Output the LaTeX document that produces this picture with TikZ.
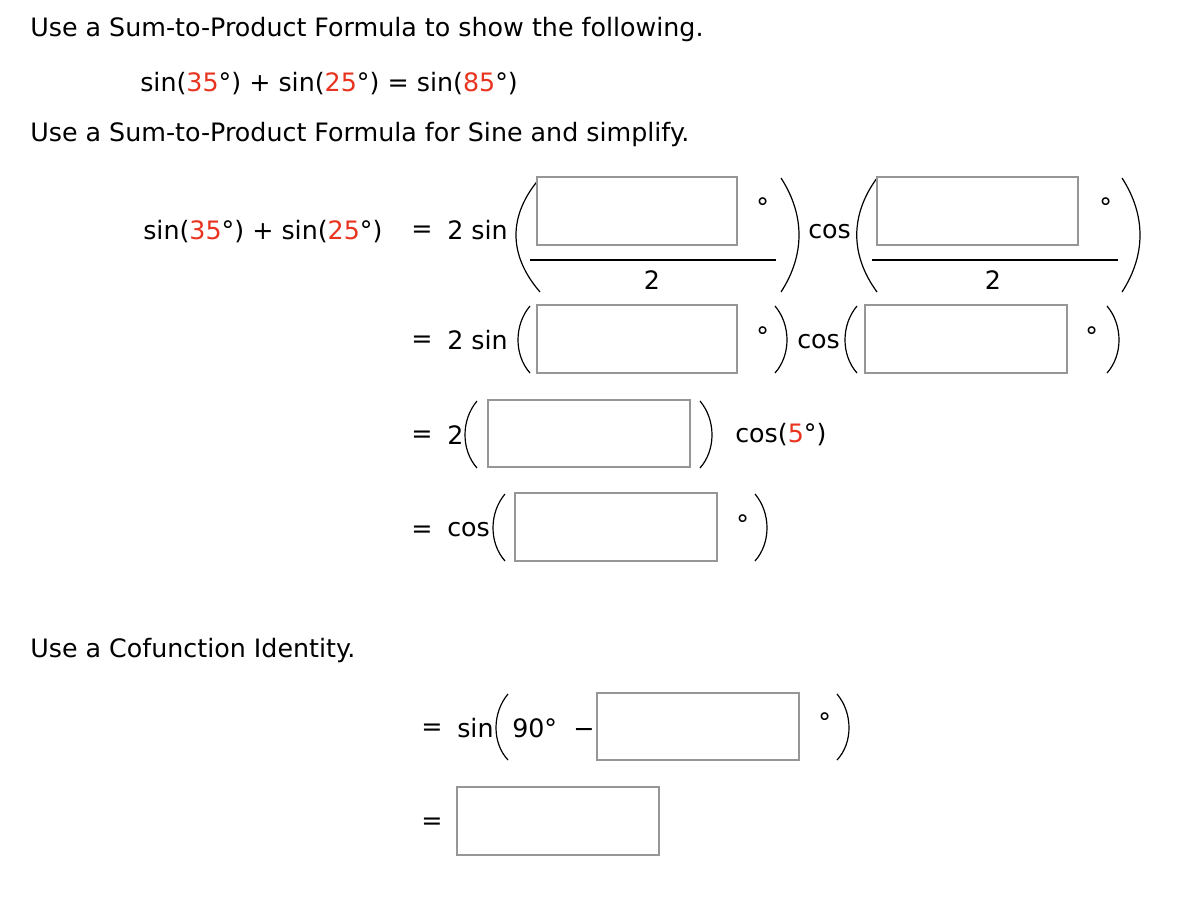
\documentclass[tikz,border=0pt]{standalone}
\usepackage{fontspec}
\setmainfont{DejaVu Sans}
\begin{document}
\begin{tikzpicture}[x=0.75pt,y=-0.75pt]
\definecolor{rd}{RGB}{232,52,30}
\definecolor{bx}{RGB}{150,150,150}
\tikzset{
 txt/.style={inner sep=0pt,anchor=west,font=\fontsize{19}{23}\selectfont},
 eq/.style={txt,anchor=center},
 ansbox/.style={draw=bx,line width=1.5pt,fill=white},
 par/.style={line width=0.9pt},
 fracl/.style={line width=0.9pt}
}
\useasboundingbox (0,0) rectangle (1178,900);
\newcommand{\R}[1]{\textcolor{rd}{#1}}
\node[txt] (t1) at (30,30) {Use a Sum-to-Product Formula to show the following.};
\node[txt] (t2) at (140,84) {sin(\R{35}°) + sin(\R{25}°) = sin(\R{85}°)};
\node[txt] (t3) at (30,135) {Use a Sum-to-Product Formula for Sine and simplify.};
% row 1
\node[txt] (r1a) at (143,232) {sin(\R{35}°) + sin(\R{25}°)};
\node[eq] (r1e) at (422,232) {=};
\node[txt] (r1s) at (447,230) {2 sin};
\draw[par] (540,178) .. controls (508,215) and (508,255) .. (540,292);
\draw[ansbox] (537,177) rectangle (737,245);
\node[txt] (d1) at (756,207) {°};
\draw[fracl] (530,260) -- (776,260);
\node[eq] (n1) at (652,280) {2};
\draw[par] (781,178) .. controls (805,215) and (805,255) .. (781,292);
\node[txt] (r1c) at (808,232) {cos};
\draw[par] (877,178) .. controls (850,215) and (850,255) .. (877,292);
\draw[ansbox] (877,177) rectangle (1078,245);
\node[txt] (d2) at (1099,207) {°};
\draw[fracl] (872,260) -- (1118,260);
\node[eq] (n2) at (993,280) {2};
\draw[par] (1122,178) .. controls (1146,215) and (1146,255) .. (1122,292);
% row 2
\node[eq] (r2e) at (422,342) {=};
\node[txt] (r2s) at (447,340) {2 sin};
\draw[par] (530,306) .. controls (514,325) and (514,355) .. (530,373);
\draw[ansbox] (537,305) rectangle (737,373);
\node[txt] (d3) at (756,336) {°};
\draw[par] (775,306) .. controls (791,325) and (791,355) .. (775,373);
\node[txt] (r2c) at (797,342) {cos};
\draw[par] (857,306) .. controls (841,325) and (841,355) .. (857,373);
\draw[ansbox] (865,305) rectangle (1067,373);
\node[txt] (d4) at (1085,336) {°};
\draw[par] (1107,306) .. controls (1123,325) and (1123,355) .. (1107,373);
% row 3
\node[eq] (r3e) at (422,437) {=};
\node[txt] (r3s) at (447,435) {2};
\draw[par] (477,401) .. controls (461,420) and (461,450) .. (477,468);
\draw[ansbox] (488,400) rectangle (690,467);
\draw[par] (700,401) .. controls (716,420) and (716,450) .. (700,468);
\node[txt] (r3c) at (735,435) {cos(\R{5}°)};
% row 4
\node[eq] (r4e) at (422,532) {=};
\node[txt] (r4c) at (447,530) {cos};
\draw[par] (505,494) .. controls (489,513) and (489,543) .. (505,561);
\draw[ansbox] (515,493) rectangle (717,561);
\node[txt] (d5) at (736,524) {°};
\draw[par] (755,494) .. controls (771,513) and (771,543) .. (755,561);
% cofunction
\node[txt] (t4) at (30,651) {Use a Cofunction Identity.};
\node[eq] (r5e) at (432,730) {=};
\node[txt] (r5s) at (457,728) {sin};
\draw[par] (508,694) .. controls (492,713) and (492,743) .. (508,760);
\node[txt] (r5n) at (512,728) {90°\ \ −};
\draw[ansbox] (597,693) rectangle (799,760);
\node[txt] (d6) at (818,722) {°};
\draw[par] (837,694) .. controls (853,713) and (853,743) .. (837,760);
\node[eq] (r6e) at (432,824) {=};
\draw[ansbox] (457,787) rectangle (659,855);
\end{tikzpicture}
\end{document}
